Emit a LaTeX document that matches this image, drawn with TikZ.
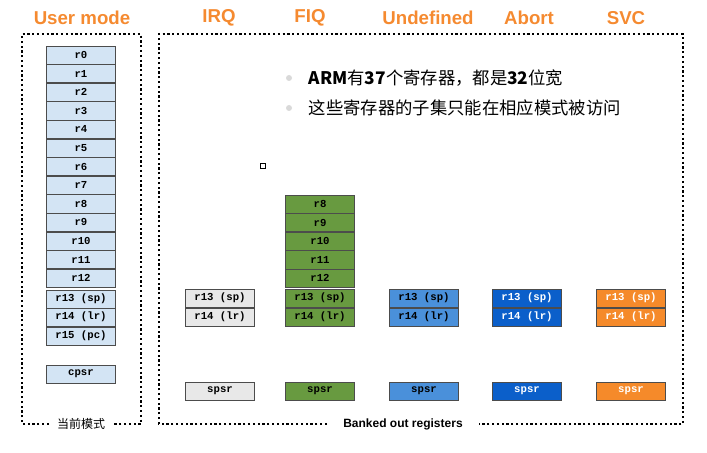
\documentclass[tikz,border=0pt]{standalone}
\usepackage{fontspec}
\setmainfont{Liberation Sans}
\newfontfamily\cjk{Noto Sans CJK SC}
\newfontfamily\tty{Liberation Mono}
\definecolor{hdr}{HTML}{F58A30}
\definecolor{usr}{HTML}{D3E4F4}
\definecolor{irq}{HTML}{E8E8E8}
\definecolor{fiq}{HTML}{689A40}
\definecolor{und}{HTML}{4A90DA}
\definecolor{abt}{HTML}{0B5FCA}
\definecolor{svc}{HTML}{F58A2A}
\begin{document}
\begin{tikzpicture}[x=0.75pt,y=-0.75pt,
  reg/.style={draw=black!70,minimum width=52pt,minimum height=13.6pt,inner sep=0pt,
    font=\tty\bfseries\fontsize{8}{9}\selectfont},
  hd/.style={font=\bfseries\fontsize{14}{16}\selectfont,text=hdr},
  box/.style={line width=1.6pt,dotted}]
\useasboundingbox (0,0) rectangle (707,453);
% headers
\node[hd] (hu) at (82,18) {User mode};
\node[hd] (hi) at (219,18) {IRQ};
\node[hd] (hf) at (310,18) {FIQ};
\node[hd] (hd) at (428,18) {Undefined};
\node[hd] (ha) at (529,18) {Abort};
\node[hd] (hs) at (626,18) {SVC};
% boxes
\draw[box] (49,424) -- (22,424) -- (22,34) -- (141,34) -- (141,424) -- (113,424);
\node[font=\cjk\fontsize{9}{10}\selectfont] (cm) at (81,424) {当前模式};
\draw[box] (327,424) -- (159,424) -- (159,34) -- (683,34) -- (683,424) -- (479,424);
\node[font=\bfseries\fontsize{9}{10}\selectfont] (bo) at (403,424) {Banked out registers};
% user
\foreach \i in {0,...,12}{
  \node[reg,fill=usr] (u\i) at (81,{55+18.6*\i}) {r\i};}
\node[reg,fill=usr] (u13) at (81,299) {r13 (sp)};
\node[reg,fill=usr] (u14) at (81,317) {r14 (lr)};
\node[reg,fill=usr] (u15) at (81,336) {r15 (pc)};
\node[reg,fill=usr] (ucp) at (81,374) {cpsr};
% IRQ
\node[reg,fill=irq] (i13) at (220,298) {r13 (sp)};
\node[reg,fill=irq] (i14) at (220,317) {r14 (lr)};
\node[reg,fill=irq] (isp) at (220,391) {spsr};
% FIQ
\foreach \i in {8,...,12}{
  \node[reg,fill=fiq] (f\i) at (320,{204+18.6*(\i-8)}) {r\i};}
\node[reg,fill=fiq] (f13) at (320,298) {r13 (sp)};
\node[reg,fill=fiq] (f14) at (320,317) {r14 (lr)};
\node[reg,fill=fiq] (fsp) at (320,391) {spsr};
% Undefined
\node[reg,fill=und] (d13) at (424,298) {r13 (sp)};
\node[reg,fill=und] (d14) at (424,317) {r14 (lr)};
\node[reg,fill=und] (dsp) at (424,391) {spsr};
% Abort
\node[reg,fill=abt,text=white] (a13) at (527,298) {r13 (sp)};
\node[reg,fill=abt,text=white] (a14) at (527,317) {r14 (lr)};
\node[reg,fill=abt,text=white] (asp) at (527,391) {spsr};
% SVC
\node[reg,fill=svc,text=white] (s13) at (631,298) {r13 (sp)};
\node[reg,fill=svc,text=white] (s14) at (631,317) {r14 (lr)};
\node[reg,fill=svc,text=white] (ssp) at (631,391) {spsr};
% bullets
\fill[black!15] (289,78) circle (3);
\fill[black!15] (289,108) circle (3);
\node[anchor=west,font=\cjk\fontsize{13}{15}\selectfont] (t1) at (304,78) {\textbf{ARM}有\textbf{37}个寄存器，都是\textbf{32}位宽};
\node[anchor=west,font=\cjk\fontsize{13}{15}\selectfont] (t2) at (304,108) {这些寄存器的子集只能在相应模式被访问};
\draw[black,line width=0.6pt] (260,163) rectangle (265,168);
\end{tikzpicture}
\end{document}
